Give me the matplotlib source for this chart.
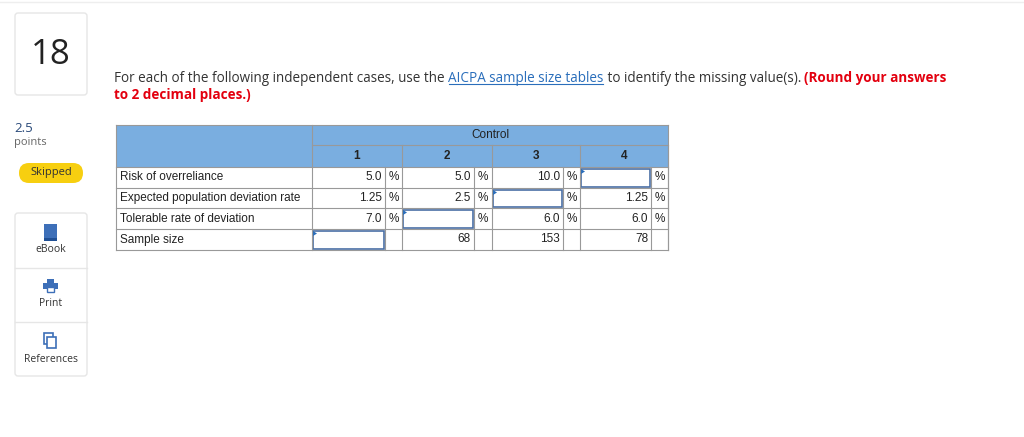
import matplotlib
matplotlib.use("Agg")
import matplotlib.pyplot as plt
from matplotlib.patches import Rectangle, FancyBboxPatch, Polygon

row_labels = ["Risk of overreliance", "Expected population deviation rate",
              "Tolerable rate of deviation", "Sample size"]
controls = ["1", "2", "3", "4"]
# values per row, per control (None = input box)
values = [
    ["5.0", "5.0", "10.0", None],
    ["1.25", "2.5", None, "1.25"],
    ["7.0", None, "6.0", "6.0"],
    [None, "68", "153", "78"],
]
show_pct = [True, True, True, False]

plt.rcParams['font.family'] = ['Liberation Sans', 'DejaVu Sans']
fig = plt.figure(figsize=(10.24, 4.37), dpi=100)
ax = fig.add_axes([0, 0, 1, 1])
ax.set_xlim(0, 1024); ax.set_ylim(437, 0); ax.axis('off')

ax.plot([0, 1024], [2, 2], color='#eeeeee', lw=1)

# left sidebar
ax.add_patch(FancyBboxPatch((15, 13), 72, 82, boxstyle="round,pad=0,rounding_size=3",
                            fc='white', ec='#e6e6e6', lw=1))
ax.text(51, 55, "18", fontsize=25, ha='center', va='center', color='#222222', family='Open Sans')
ax.text(14, 128, "2.5", fontsize=9.5, color='#2a4a7a', va='center', family='Open Sans')
ax.text(14, 142, "points", fontsize=8, color='#666666', va='center', family='Open Sans')
ax.add_patch(FancyBboxPatch((19, 163), 64, 20, boxstyle="round,pad=0,rounding_size=10",
                            fc='#f7cf10', ec='none'))
ax.text(51, 173, "Skipped", fontsize=8, ha='center', va='center', color='#333333', family='Open Sans')
ax.add_patch(FancyBboxPatch((15, 213), 72, 163, boxstyle="round,pad=0,rounding_size=3",
                            fc='white', ec='#e6e6e6', lw=1))
for yy in (268, 322):
    ax.plot([15, 87], [yy, yy], color='#e6e6e6', lw=1)
ax.add_patch(Rectangle((44, 224), 13, 16, fc='#3d6fb8', ec='none'))
ax.add_patch(Rectangle((44, 238), 13, 3, fc='#1f4f94', ec='none'))
ax.text(51, 250, "eBook", fontsize=7.5, ha='center', va='center', color='#333333', family='Open Sans')
ax.add_patch(Rectangle((43, 283), 15, 6, fc='#3d6fb8', ec='none'))
ax.add_patch(Rectangle((47, 279), 7, 4, fc='#3d6fb8', ec='none'))
ax.add_patch(Rectangle((47, 287), 7, 5, fc='white', ec='#3d6fb8', lw=1))
ax.text(51, 304, "Print", fontsize=7.5, ha='center', va='center', color='#333333', family='Open Sans')
ax.add_patch(Rectangle((44, 333), 9, 11, fc='white', ec='#3d6fb8', lw=1.2))
ax.add_patch(Rectangle((47, 337), 9, 11, fc='white', ec='#3d6fb8', lw=1.2))
ax.text(51, 359, "References", fontsize=7.5, ha='center', va='center', color='#333333', family='Open Sans')

# question text, chained pieces
fs = 9.75
pieces = [("For each of the following independent cases, use the ", '#333333', 'normal'),
          ("AICPA sample size tables", '#2a6ebb', 'normal'),
          (" to identify the missing value(s). ", '#333333', 'normal'),
          ("(Round your answers", '#e3000f', 'bold')]
fig.canvas.draw()
r = fig.canvas.get_renderer()
x = 114
inv = ax.transData.inverted()
for s, col, w in pieces:
    t = ax.text(x, 78, s, fontsize=fs, color=col, va='center', weight=w, family='Open Sans')
    bb = t.get_window_extent(renderer=r)
    (xa, _), (xb, _) = inv.transform([[bb.x0, 0], [bb.x1, 0]])
    if col == '#2a6ebb':
        ax.plot([xa + 1, xb - 1], [84, 84], color=col, lw=0.8)
    x = xb
ax.text(114, 95, "to 2 decimal places.)", fontsize=fs, color='#e3000f', va='center', weight='bold', family='Open Sans')

# table geometry
x0, xl, x1 = 116, 312, 668
groups = [(312, 385, 402), (402, 474, 492), (492, 563, 580), (580, 651, 668)]
ys = [125, 145, 167, 188, 208, 229, 250]
blue = '#7aaee0'
ax.add_patch(Rectangle((x0, ys[0]), x1 - x0, ys[2] - ys[0], fc=blue, ec='none'))
ax.add_patch(Rectangle((x0, ys[2]), x1 - x0, ys[-1] - ys[2], fc='white', ec='none'))
lc = '#999999'
for y in ys:
    xs = xl if y == ys[1] else x0
    ax.plot([xs, x1], [y, y], color=lc, lw=0.8)
ax.plot([x0, x0], [ys[0], ys[-1]], color=lc, lw=0.8)
ax.plot([x1, x1], [ys[0], ys[-1]], color=lc, lw=0.8)
ax.plot([xl, xl], [ys[0], ys[-1]], color=lc, lw=0.8)
for (a, b, c) in groups:
    ax.plot([c, c], [ys[1], ys[-1]], color=lc, lw=0.8)
    ax.plot([b, b], [ys[2], ys[-1]], color=lc, lw=0.8)
ax.text((xl + x1) / 2, 135, "Control", fontsize=8.5, ha='center', va='center', color='#222222')
for (a, b, c), name in zip(groups, controls):
    ax.text((a + c) / 2, 156, name, fontsize=8.5, ha='center', va='center', color='#222222', weight='bold')

for ri, lab in enumerate(row_labels):
    yt, yb = ys[2 + ri], ys[3 + ri]
    ym = (yt + yb) / 2
    ax.text(x0 + 4, ym, lab, fontsize=8.5, va='center', color='#222222')
    for g, (a, b, c) in enumerate(groups):
        v = values[ri][g]
        if v is None:
            ax.add_patch(Rectangle((a + 1, yt + 2), b - a - 2, yb - yt - 3, fc='white',
                                   ec='#4a6fa5', lw=1.2))
            ax.add_patch(Polygon([[a + 1, yt + 2], [a + 5, yt + 4.5], [a + 1, yt + 7]],
                                 fc='#2a6ebb', ec='none'))
        else:
            ax.text(b - 3, ym, v, fontsize=8.5, ha='right', va='center', color='#222222')
        if show_pct[ri]:
            ax.text((b + c) / 2, ym, "%", fontsize=8.5, ha='center', va='center', color='#222222')

fig.savefig("out.png", dpi=100)
